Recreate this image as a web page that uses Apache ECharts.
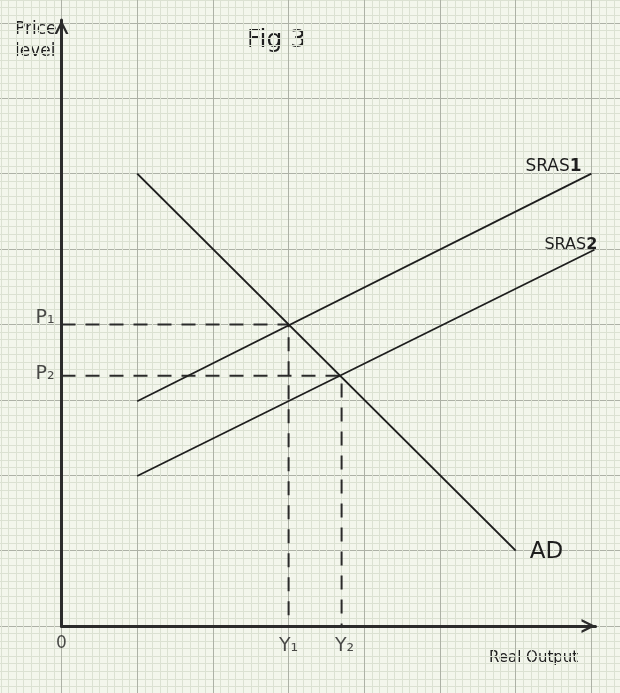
<!DOCTYPE html>
<html>
<head>
<meta charset="utf-8">
<script src="https://cdn.jsdelivr.net/npm/echarts@6/dist/echarts.min.js"></script>
<style>
html,body{margin:0;padding:0;background:#f3f6ec;}
#chart{width:620px;height:693px;}
</style>
</head>
<body>
<div id="chart"></div>
<script>
// ---------- data (graph-paper units: 1 unit = 1 small square) ----------
const AD = [[10, 60], [60, 10]];
const SRAS1 = [[10, 29.8], [70, 60]];
const SRAS2 = [[10, 19.9], [70.4, 49.9]];
const P_LEVELS = [40, 33.2];          // P1, P2
const Y_LEVELS = [30, 37];            // Y1, Y2
const P_LABELS = ['P\u2081', 'P\u2082'];
const Y_LABELS = ['Y\u2081', 'Y\u2082'];
const ORIGIN_LABEL = '0';
const CURVE_NAMES = ['AD', 'SRAS1', 'SRAS2'];
const TITLE = 'Fig 3';
const Y_NAME = 'Price\nlevel';
const X_NAME = 'Real Output';

// ---------- layout ----------
const W = 620, H = 693;
const UX = 7.57, UY = 7.54;       // pixels per small square
const OX = 61.5, OY = 626;        // origin in pixels
const TIP_X = 595.5, TIP_Y = 20;  // arrow tips
const INK = '#1e1e1e';
const FONT = 'DejaVu Sans';

const paperX = [-10, 80], paperY = [-10, 90];

const chart = echarts.init(document.getElementById('chart'), null, {renderer: 'canvas'});

function endLabel(arr, label) {
  return arr.map((p, i) => i === arr.length - 1 ? {value: p, label: Object.assign({show: true}, label)} : p);
}

const guideLines = P_LEVELS.map((p, i) => ({
  type: 'line', xAxisIndex: 1, yAxisIndex: 1, symbol: 'none', silent: true, z: 3,
  lineStyle: {color: '#2a2a2a', width: 2, type: [14, 10]},
  data: [[0, p], [Y_LEVELS[i], p], [Y_LEVELS[i], 0]]
}));

const labelPoints = [
  {value: [0, P_LEVELS[0]], name: P_LABELS[0], label: {position: 'left', distance: 7, offset: [0, -6], fontSize: 19}},
  {value: [0, P_LEVELS[1]], name: P_LABELS[1], label: {position: 'left', distance: 7, offset: [0, -2], fontSize: 19}},
  {value: [Y_LEVELS[0], 0], name: Y_LABELS[0], label: {position: 'bottom', distance: 11, fontSize: 19}},
  {value: [Y_LEVELS[1], 0], name: Y_LABELS[1], label: {position: 'bottom', distance: 11, offset: [3, 0], fontSize: 19}},
  {value: [0, 0], name: ORIGIN_LABEL, label: {position: 'bottom', distance: 9, offset: [0, 0], fontSize: 17}}
];

const chevron = 'path://M0,10 L5,0 L10,10 L8.2,10 L5,3.6 L1.8,10 Z';

const paperAxis = (range) => ({
  type: 'value', min: range[0], max: range[1], interval: 10,
  axisLine: {show: false}, axisTick: {show: false}, axisLabel: {show: false},
  splitLine: {show: true, lineStyle: {color: '#adb1a6', width: 1}},
  minorTick: {show: false, splitNumber: 10},
  minorSplitLine: {show: true, lineStyle: {color: '#dbe1d2', width: 1}}
});

const mainAxis = (max) => ({
  type: 'value', gridIndex: 1, min: 0, max: max,
  axisLine: {show: true, onZero: false, symbol: ['none', chevron], symbolSize: [17, 14], symbolOffset: [0, -7],
    lineStyle: {color: '#2b2b2b', width: 3}},
  axisTick: {show: false}, axisLabel: {show: false}, splitLine: {show: false}
});

const curve = (name, data, width, label) => ({
  name: name, type: 'line', xAxisIndex: 1, yAxisIndex: 1,
  symbol: 'circle', symbolSize: 0, showSymbol: true, z: 4,
  lineStyle: {color: INK, width: width},
  itemStyle: {color: INK},
  labelLayout: {hideOverlap: false},
  data: endLabel(data, label)
});

const rich = (size) => ({a: {fontSize: size, color: INK}, b: {fontSize: size, fontWeight: 'bold', color: INK}});

chart.setOption({
  backgroundColor: '#f3f6ec',
  animation: false,
  textStyle: {fontFamily: FONT, color: INK},
  grid: [
    {outerBoundsMode: 'none', containLabel: false,
     left: OX - 10 * UX, top: OY - 90 * UY,
     width: (paperX[1] - paperX[0]) * UX, height: (paperY[1] - paperY[0]) * UY, z: 0},
    {outerBoundsMode: 'none', containLabel: false,
     left: OX, top: TIP_Y, width: TIP_X - OX, height: OY - TIP_Y}
  ],
  xAxis: [
    Object.assign(paperAxis(paperX), {gridIndex: 0}),
    mainAxis((TIP_X - OX) / UX)
  ],
  yAxis: [
    Object.assign(paperAxis(paperY), {gridIndex: 0}),
    mainAxis((OY - TIP_Y) / UY)
  ],
  graphic: [
    {type: 'text', left: 15, top: 19, style: {text: Y_NAME, font: '17px ' + FONT, lineHeight: 22, fill: INK}},
    {type: 'text', left: 247, top: 28, style: {text: TITLE, font: '25px ' + FONT, fill: INK}},
    {type: 'text', left: 489, top: 651, style: {text: X_NAME, font: '15px ' + FONT, fill: INK}}
  ],
  series: [
    curve(CURVE_NAMES[0], AD, 2,
      {formatter: CURVE_NAMES[0], position: [14, -10], align: 'left', verticalAlign: 'top', fontSize: 23, color: INK}),
    curve(CURVE_NAMES[1], SRAS1, 1.8,
      {formatter: '{a|SRAS}{b|1}', position: [-66, -16], align: 'left', verticalAlign: 'top', rich: rich(17)}),
    curve(CURVE_NAMES[2], SRAS2, 1.8,
      {formatter: '{a|SRAS}{b|2}', position: [-50, -13], align: 'left', verticalAlign: 'top', rich: rich(16)}),
    ...guideLines,
    {
      type: 'scatter', xAxisIndex: 1, yAxisIndex: 1, symbolSize: 0, silent: true, z: 5,
      label: {show: true, formatter: '{b}', color: INK},
      data: labelPoints
    }
  ]
});
</script>
</body>
</html>
